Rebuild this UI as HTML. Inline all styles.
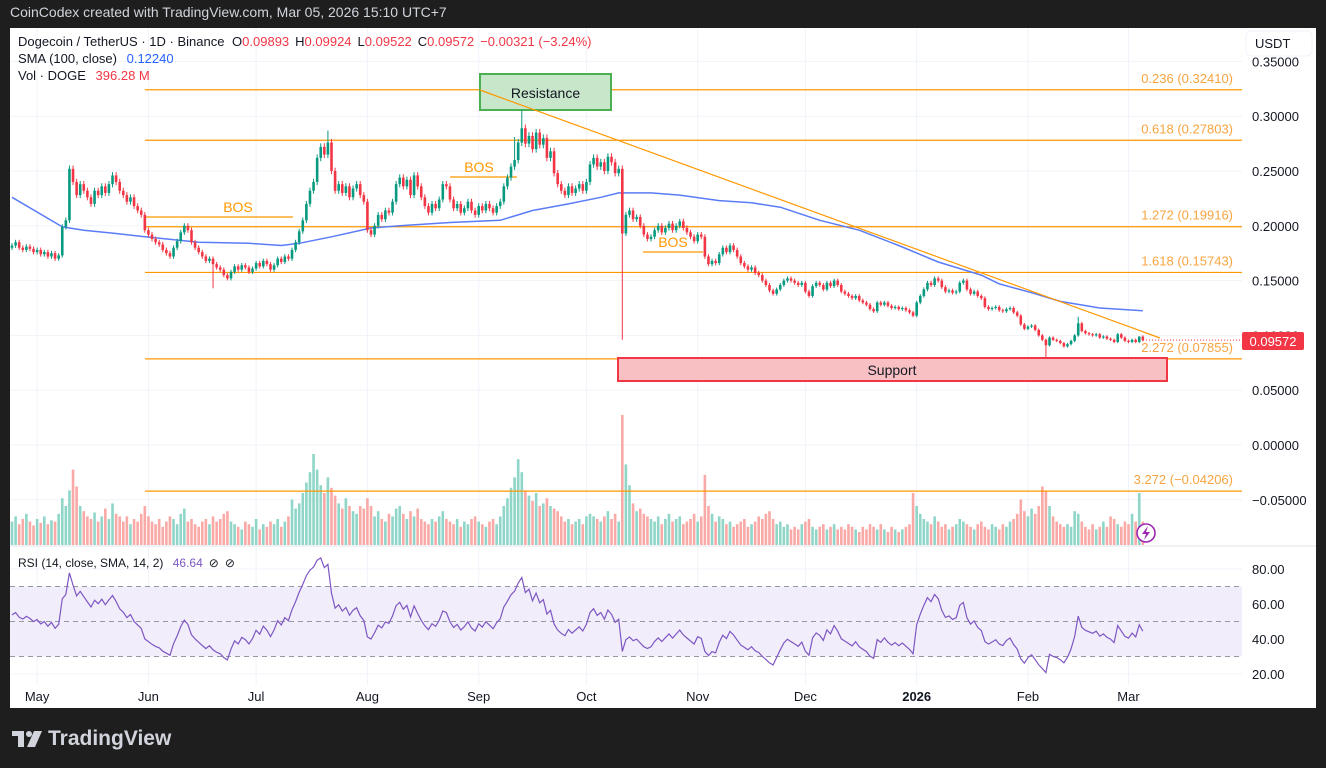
<!DOCTYPE html>
<html><head><meta charset="utf-8">
<style>
html,body{margin:0;padding:0;background:#1e1e1e;width:1326px;height:768px;overflow:hidden;font-family:"Liberation Sans",sans-serif}
#top{position:absolute;left:10px;top:4px;color:#d1d4dc;font-size:14px}
#panel{position:absolute;left:10px;top:28px;width:1306px;height:680px;background:#fff}
#logo{position:absolute;left:12px;top:727px;color:#d1d4dc;font-size:21px;font-weight:bold;display:flex;align-items:center;gap:6px}
svg{position:absolute;left:0;top:0}
</style></head><body>
<div id="top">CoinCodex created with TradingView.com, Mar 05, 2026 15:10 UTC+7</div>
<div id="panel"></div>
<div id="logo"><svg width="30" height="16" style="position:static"><rect x="0" y="0" width="12" height="5" fill="#d1d4dc"/><rect x="6" y="0" width="6" height="16" fill="#d1d4dc"/><circle cx="17" cy="3" r="3" fill="#d1d4dc"/><polygon points="22,0 30,0 23,16 15,16" fill="#d1d4dc"/></svg><span>TradingView</span></div>
<svg id="chart" width="1326" height="768"></svg>
<script>
const closes=[0.182,0.185,0.180,0.178,0.181,0.179,0.176,0.178,0.174,0.176,0.172,0.175,0.170,0.173,
0.199,0.205,
0.252,0.240,0.228,0.238,0.232,0.226,0.220,0.232,0.228,0.236,0.230,0.238,0.246,0.240,0.232,
0.228,0.222,0.226,0.218,0.214,0.210,0.196,
0.192,0.188,0.185,0.183,0.178,0.175,0.172,0.180,0.186,0.194,0.200,0.196,0.185,
0.180,0.176,0.172,0.168,0.170,0.165,0.162,0.160,0.155,0.152,0.158,
0.163,0.160,0.164,0.162,0.158,0.161,0.166,0.163,0.168,0.165,0.160,0.164,0.170,0.167,0.172,0.170,0.178,
0.185,0.195,0.205,0.220,0.232,0.240,0.262,0.272,0.265,0.276,0.250,
0.232,0.238,0.230,0.236,0.226,0.234,0.238,0.228,0.222,0.196,0.192,
0.200,0.210,0.206,0.214,0.212,0.222,
0.238,0.244,0.236,0.242,0.228,0.246,0.236,0.226,0.218,
0.212,0.220,0.216,0.224,0.238,0.236,
0.224,0.216,0.220,0.212,0.216,0.222,0.214,0.210,0.218,0.214,0.220,0.216,0.212,0.218,0.222,
0.236,0.244,0.254,0.260,0.276,
0.289,0.275,0.282,0.270,0.285,0.274,0.280,
0.262,0.268,0.248,0.238,
0.232,0.228,0.236,0.230,0.234,0.238,0.232,0.240,
0.256,0.262,0.254,0.258,0.250,0.263,
0.258,0.248,0.252,
0.193,
0.210,0.214,0.206,0.208,
0.200,0.192,0.188,0.190,
0.196,0.200,0.194,0.198,0.202,0.196,0.200,0.204,0.198,0.194,
0.190,0.186,0.192,0.190,
0.172,0.165,0.168,
0.166,0.174,0.180,0.176,0.182,0.178,
0.172,0.166,0.163,0.160,0.162,0.157,0.155,0.150,0.146,
0.141,0.138,0.142,0.146,
0.150,0.152,0.150,0.148,0.146,0.148,
0.140,0.136,0.145,0.148,
0.146,0.142,0.148,0.145,0.150,0.146,
0.140,0.138,0.136,0.134,0.136,0.132,0.130,0.128,
0.124,0.122,0.130,0.128,0.130,0.127,0.125,0.126,0.124,0.125,0.123,0.121,
0.118,0.130,0.136,0.142,0.148,0.146,
0.152,0.150,0.144,0.140,0.141,0.139,0.140,
0.148,0.150,
0.142,0.138,0.140,0.136,0.134,
0.126,0.124,0.125,0.126,0.123,0.122,0.124,0.125,0.121,0.118,
0.110,0.106,0.108,0.109,
0.105,0.100,0.096,0.091,
0.098,0.096,0.095,0.093,0.090,0.092,0.095,
0.100,0.111,
0.104,0.102,0.101,0.100,0.101,0.098,0.099,0.097,0.096,0.094,0.101,
0.098,0.095,0.094,0.096,0.094,0.09893,
0.09572];
const firstOpen=0.180;
const lowOverrideIdx=[170,288,56];
const lowOverrideVal=[0.096,0.080,0.143];
const highOverrideIdx=[142,88,140,297,314];
const highOverrideVal=[0.306,0.287,0.281,0.117,0.09924];
const volumes=[18,22,16,20,24,18,15,20,17,22,16,19,18,24,
36,30,
42,58,45,30,26,22,20,25,18,22,28,20,32,24,22,
18,22,16,20,18,24,30,
22,18,16,20,14,18,22,20,16,24,28,18,20,
16,14,18,20,16,22,18,20,24,26,18,
16,14,12,18,16,14,20,12,16,14,18,16,20,14,18,22,35,
28,32,40,48,56,70,58,46,40,52,44,
38,32,28,36,30,26,24,30,28,36,30,
22,26,20,18,24,22,
28,30,24,20,26,22,28,20,18,
16,20,18,22,26,20,
18,16,20,14,18,16,20,22,18,16,14,18,20,16,22,
30,36,44,52,66,
56,42,38,34,40,30,32,
36,30,28,26,
22,18,20,16,18,20,16,22,
24,22,20,18,22,26,
20,24,18,
100,
62,46,32,26,
28,24,22,20,
18,22,16,20,24,18,20,22,16,18,
20,24,18,22,
54,30,24,
18,22,20,16,18,14,
16,18,20,14,16,18,22,20,24,
26,20,16,18,
14,16,12,14,12,16,
18,20,14,12,
14,16,12,14,16,12,
14,12,16,14,12,10,14,12,
16,14,12,16,12,10,14,12,10,12,14,16,
40,30,24,20,18,16,
22,18,14,16,12,14,16,
20,18,
16,14,12,16,18,
14,12,16,14,12,16,14,18,20,24,
35,26,22,28,
24,30,45,42,
30,22,18,16,14,16,14,
26,24,
18,14,12,16,12,14,18,14,22,20,16,
14,18,16,24,18,40,
18];
const smaIdx=[0,14,20,29,37,52,66,75,80,89,100,108,122,136,145,155,164,169,178,186,197,206,214,225,236,247,258,270,275,284,292,303,315];
const smaVal=[0.226,0.199,0.196,0.193,0.190,0.185,0.184,0.182,0.184,0.190,0.198,0.200,0.203,0.205,0.214,0.220,0.226,0.230,0.230,0.228,0.223,0.221,0.217,0.205,0.196,0.182,0.167,0.155,0.147,0.139,0.131,0.125,0.1224];
const priceTicks=[0.35,0.30,0.25,0.20,0.15,0.05,0.00,-0.05];
const priceTickLabels=["0.35000","0.30000","0.25000","0.20000","0.15000","0.05000","0.00000","\u22120.05000"];
const fibVals=[0.32410,0.27803,0.19916,0.15743,0.07855,-0.04206];
const fibLabels=["0.236 (0.32410)","0.618 (0.27803)","1.272 (0.19916)","1.618 (0.15743)","2.272 (0.07855)","3.272 (\u22120.04206)"];
const rsiTicks=[80,60,40,20];
const monthIdx=[7,38,68,99,130,160,191,221,252,283,311];
const monthLabels=["May","Jun","Jul","Aug","Sep","Oct","Nov","Dec","2026","Feb","Mar"];

const NS="http://www.w3.org/2000/svg";
const svg=document.getElementById('chart');
const X=i=>12+i*3.59;
const Y=v=>445-v*1096;
const RY=r=>709-r*1.75;
const VY=v=>545-v*1.3;
function mk(tag,attrs,parent){const e=document.createElementNS(NS,tag);for(const k in attrs)e.setAttribute(k,attrs[k]);(parent||svg).appendChild(e);return e;}
function txt(s,x,y,attrs,name){const t=mk('text',Object.assign({x:x,y:y,'font-family':'Liberation Sans, sans-serif','font-size':13},attrs));t.textContent=s;return t;}

const grid=mk('g',{});


monthIdx.forEach(i=>{mk('line',{x1:X(i),x2:X(i),y1:28,y2:685,stroke:'#f0f3fa','stroke-width':1},grid);});
priceTicks.forEach(v=>{mk('line',{x1:10,x2:1242,y1:Y(v),y2:Y(v),stroke:'#f0f3fa'},grid);});
mk('line',{x1:10,x2:1242,y1:Y(0.10),y2:Y(0.10),stroke:'#f0f3fa'},grid);
rsiTicks.forEach(v=>{mk('line',{x1:10,x2:1242,y1:RY(v),y2:RY(v),stroke:'#f0f3fa'},grid);});
const sep=mk('line',{x1:10,x2:1316,y1:546,y2:546,stroke:'#e0e3eb'});



const volG=mk('g',{});


const opens=closes.map((c,i)=>i===0?firstOpen:closes[i-1]);
volumes.forEach((v,i)=>{const up=closes[i]>=opens[i];const r=mk('rect',{x:X(i)-1.3,y:VY(v),width:2.6,height:545-VY(v),fill:up?'#8fd6c9':'#f9a9a6'},volG);

});

fibVals.forEach((v,k)=>{const l=mk('line',{x1:145,x2:1242,y1:Y(v),y2:Y(v),stroke:'#ff9800','stroke-width':1.2});


txt(fibLabels[k],1233,Y(v)-7,{'text-anchor':'end',fill:'#f7a440'},'fib-level-label');});

const rb=mk('rect',{x:480,y:74,width:131,height:36,fill:'#c8e6c9',stroke:'#4caf50','stroke-width':2});


txt('Resistance',545.5,98,{'text-anchor':'middle',fill:'#131722','font-size':14},'resistance-label');
const sb=mk('rect',{x:618,y:358,width:549,height:23,fill:'#f9c0c4',stroke:'#f23645','stroke-width':2});


txt('Support',892,375,{'text-anchor':'middle',fill:'#131722','font-size':14},'support-label');

const bos=[[145,293,217,238],[450,517,177,479],[643,703,252,673]];
bos.forEach(b=>{const l=mk('line',{x1:b[0],x2:b[1],y1:b[2],y2:b[2],stroke:'#ff9800','stroke-width':1.2});


txt('BOS',b[3],b[2]-5,{'text-anchor':'middle',fill:'#ff9800','font-size':14},'bos-label');});

const smaPts=smaIdx.map((i,k)=>X(i).toFixed(1)+','+Y(smaVal[k]).toFixed(1)).join(' ');
const sma=mk('polyline',{points:smaPts,fill:'none',stroke:'#5b7cf7','stroke-width':1.5,'stroke-linejoin':'round'});



const tl=mk('line',{x1:480,y1:90,x2:1160,y2:338,stroke:'#ff9800','stroke-width':1.2});



const cG=mk('g',{});


closes.forEach((c,i)=>{const o=opens[i];const up=c>=o;
let hi=Math.max(o,c)*1.012, lo=Math.min(o,c)*0.988;
const hk=highOverrideIdx.indexOf(i); if(hk>=0)hi=highOverrideVal[hk];
const lk=lowOverrideIdx.indexOf(i); if(lk>=0)lo=lowOverrideVal[lk];
const col=up?'#089981':'#f23645';
const w=mk('line',{x1:X(i),x2:X(i),y1:Y(hi),y2:Y(lo),stroke:col,'stroke-width':1},cG);


const top=Y(Math.max(o,c)),bot=Y(Math.min(o,c));
const b=mk('rect',{x:X(i)-1.3,y:top,width:2.6,height:Math.max(1,bot-top),fill:col},cG);

});

const band=mk('rect',{x:10,y:RY(70),width:1232,height:RY(30)-RY(70),fill:'#f1edfb'});


[70,50,30].forEach(v=>{const l=mk('line',{x1:10,x2:1242,y1:RY(v),y2:RY(v),stroke:'#9598a1','stroke-dasharray':'5,4','stroke-width':1});

});
let ag=0.0045,al=0.0040;const rsi=[];
closes.forEach((c,i)=>{const o=i===0?firstOpen:closes[i-1];const d=c-o;ag=(ag*13+Math.max(d,0))/14;al=(al*13+Math.max(-d,0))/14;rsi.push(100-100/(1+ag/(al||1e-9)));});
const rp=mk('polyline',{points:rsi.map((r,i)=>X(i).toFixed(1)+','+RY(r).toFixed(1)).join(' '),fill:'none',stroke:'#7e57c2','stroke-width':1.2});



priceTicks.forEach((v,k)=>txt(priceTickLabels[k],1252,Y(v)+5,{fill:'#131722'},'price-tick-label'));
txt('0.10000',1252,Y(0.10)+5,{fill:'#131722'},'price-tick-label');
rsiTicks.forEach(v=>txt(v.toFixed(2),1252,RY(v)+5,{fill:'#131722'},'rsi-tick-label'));
monthIdx.forEach((i,k)=>txt(monthLabels[k],X(i),701,{'text-anchor':'middle',fill:'#131722','font-weight':monthLabels[k]==='2026'?'bold':'normal'},'time-tick-label'));

const pl=mk('rect',{x:1242,y:332,width:62,height:18,fill:'#f23645',rx:2});


txt('0.09572',1273,346,{'text-anchor':'middle',fill:'#fff'},'last-price-label');
const plLine=mk('line',{x1:1143,x2:1242,y1:Y(0.09572),y2:Y(0.09572),stroke:'#f23645','stroke-dasharray':'1,2'});



const ub=mk('rect',{x:1246,y:31,width:66,height:25,rx:5,fill:'#fff',stroke:'#f0f3fa'});


txt('USDT',1255,48,{fill:'#131722'},'currency-label');

const lg=txt('',18,46,{fill:'#131722'},'symbol-legend');
lg.innerHTML='Dogecoin / TetherUS · 1D · Binance  <tspan dx="4">O</tspan><tspan fill="#f23645">0.09893</tspan><tspan dx="6">H</tspan><tspan fill="#f23645">0.09924</tspan><tspan dx="6">L</tspan><tspan fill="#f23645">0.09522</tspan><tspan dx="6">C</tspan><tspan fill="#f23645">0.09572</tspan><tspan dx="6" fill="#f23645">−0.00321 (−3.24%)</tspan>';
const l2=txt('',18,63,{fill:'#131722'},'sma-legend');
l2.innerHTML='SMA (100, close) <tspan dx="6" fill="#2962ff">0.12240</tspan>';
const l3=txt('',18,80,{fill:'#131722'},'volume-legend');
l3.innerHTML='Vol · DOGE <tspan dx="6" fill="#f23645">396.28 M</tspan>';
const l4=txt('',18,567,{fill:'#131722','font-size':12},'rsi-legend');
l4.innerHTML='RSI (14, close, SMA, 14, 2) <tspan dx="6" fill="#7e57c2">46.64</tspan><tspan dx="6">⊘</tspan><tspan dx="6">⊘</tspan>';

const ic=mk('circle',{cx:1146,cy:533,r:9,fill:'#fff',stroke:'#9c27b0','stroke-width':1.6});


const bolt=mk('polygon',{points:'1148,526 1142,534 1146,534 1144,540 1150,532 1146,532',fill:'#9c27b0'});


</script>
</body></html>
